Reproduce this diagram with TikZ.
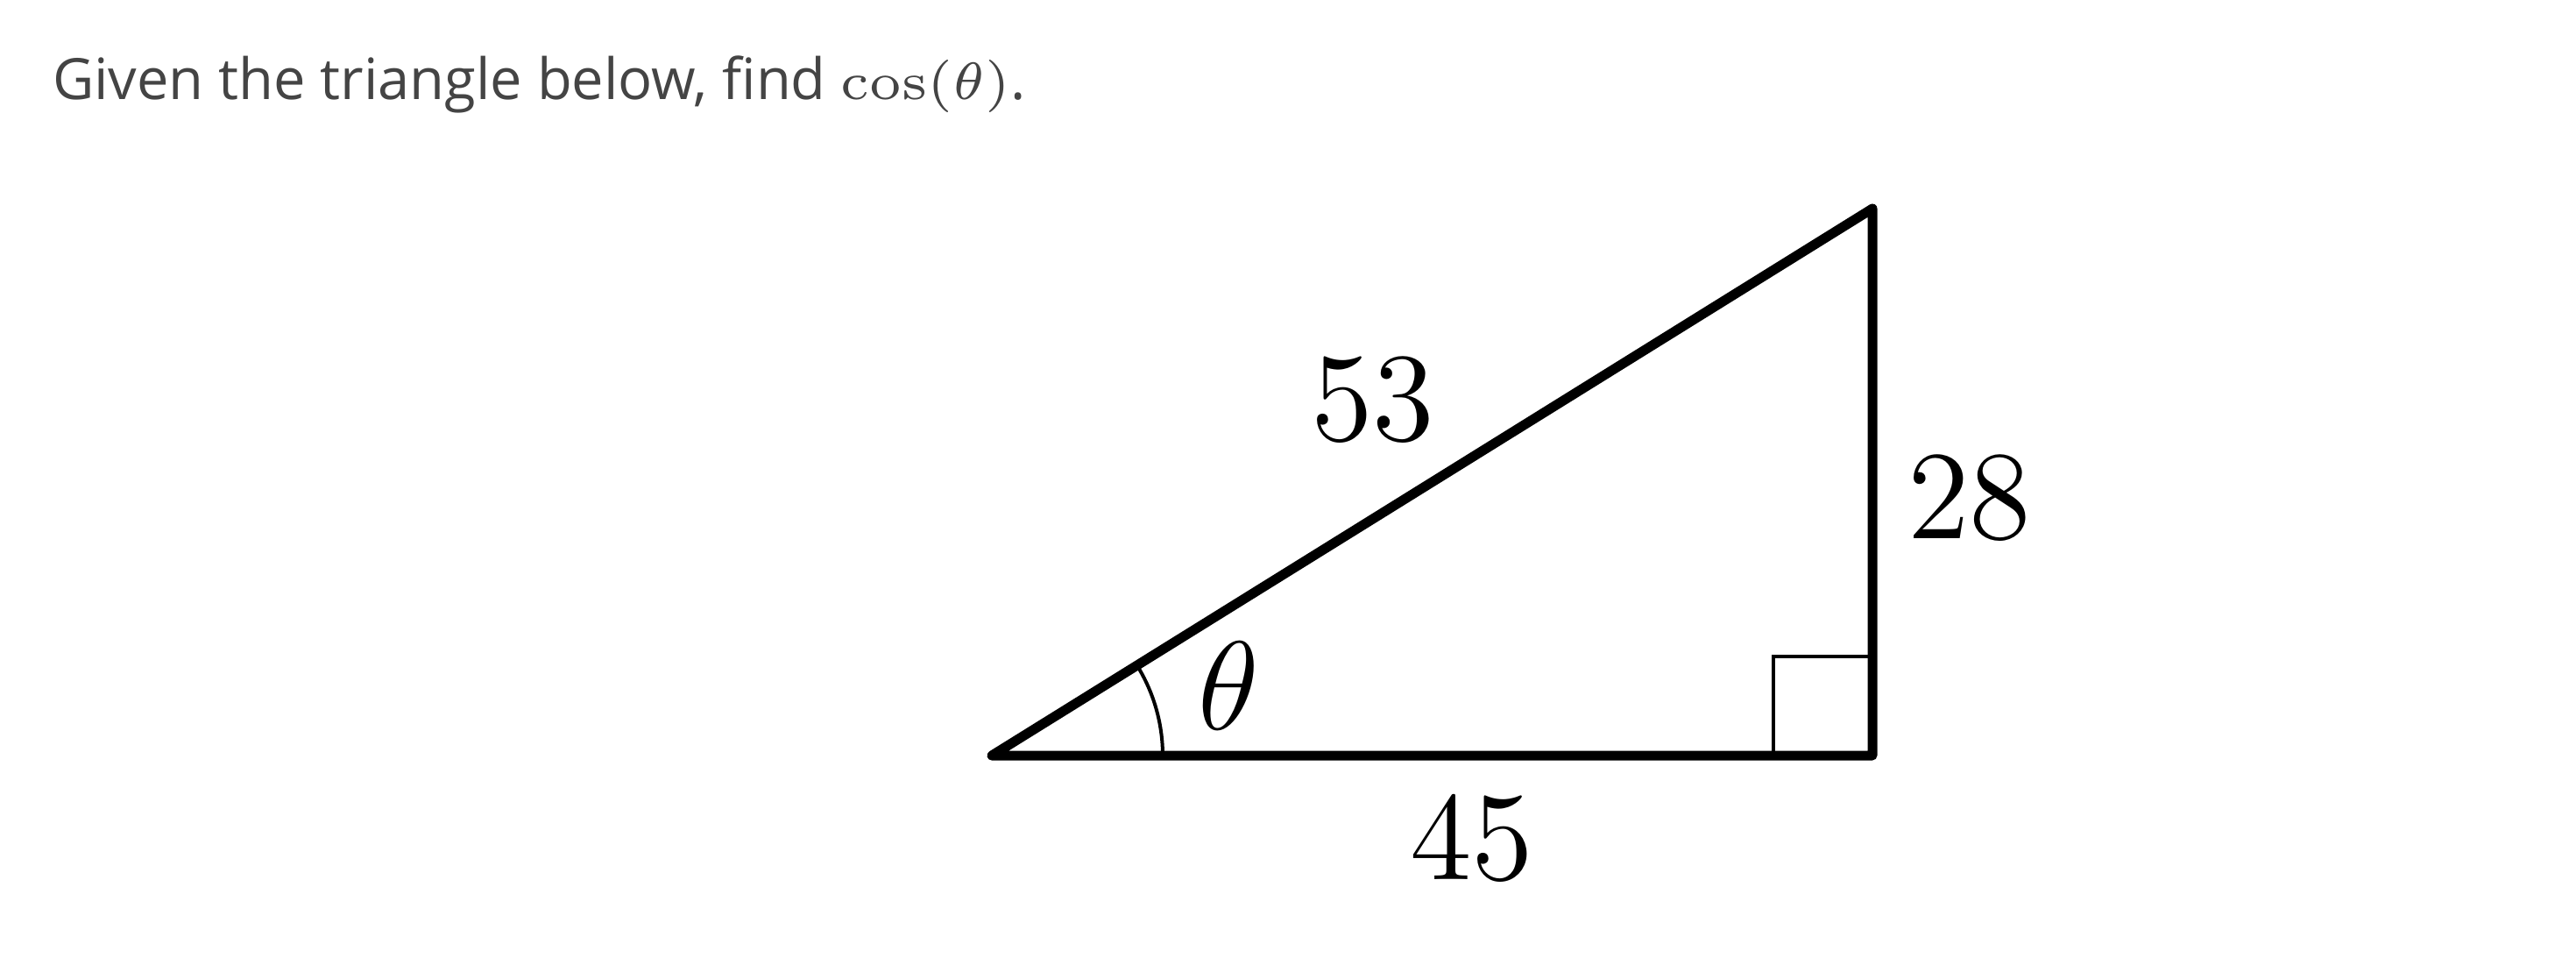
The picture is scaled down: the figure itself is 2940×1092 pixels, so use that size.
\documentclass[tikz,border=0pt]{standalone}
\usepackage[no-math]{fontspec}
\setmainfont{Open Sans}
\usetikzlibrary{positioning, calc}
\definecolor{questiongray}{RGB}{68,68,68}

\begin{document}
\begin{tikzpicture}[x=0.1pt, y=0.1pt]
        \useasboundingbox (0,0) rectangle (2940,1092);

        % Question text
        \node[anchor=base west, inner sep=0pt, text=questiongray, font=\fontsize{6.5}{8}\selectfont] (question) at (58,978) {Given the triangle below, find $\cos(\theta)$.};

        % Corners
        \coordinate (A) at (1132,230);
        \coordinate (B) at (2137,230);
        \coordinate (C) at (2137,854);

        % Right angle mark
        \draw[line width=0.45pt] ($(B)+(-113,0)$) -- ($(B)+(-113,113)$) -- ($(B)+(0,113)$);

        % Angle arc
        \draw[line width=0.4pt] ($(A)+(195,0)$) arc[start angle=0, end angle=31.89, radius=195];

        % Sides
        \draw[line width=1.1pt, line join=round] (A) -- (B) -- (C) -- cycle;

        % Side labels
        \node[font=\fontsize{15.5}{18}\selectfont] (hyp) at (1567,636) {$53$};
        \node[font=\fontsize{15.5}{18}\selectfont] (opp) at (2248,524) {$28$};
        \node[font=\fontsize{15.5}{18}\selectfont] (adj) at (1680,135) {$45$};
        \node[font=\fontsize{15.5}{18}\selectfont] (ang) at (1402,310) {$\theta$};
    \end{tikzpicture}
\end{document}
